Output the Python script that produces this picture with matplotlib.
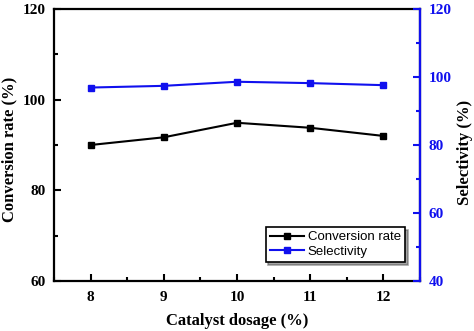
import matplotlib.pyplot as plt
from matplotlib.ticker import MultipleLocator

dosage = [8, 9, 10, 11, 12]
conversion = [90.0, 91.7, 94.9, 93.8, 92.0]
selectivity = [96.9, 97.4, 98.6, 98.2, 97.6]

plt.rcParams['font.family'] = 'Liberation Serif'
plt.rcParams['font.weight'] = 'bold'

W, H = 474, 331
fig = plt.figure(figsize=(W / 100, H / 100), dpi=100)
ax = fig.add_axes([54 / W, 50 / H, 366 / W, 272 / H])
ax2 = ax.twinx()

l1, = ax.plot(dosage, conversion, color='black', marker='s', markersize=4,
              lw=1.5, label='Conversion rate')
l2, = ax2.plot(dosage, selectivity, color='#1010ee', marker='s', markersize=4,
               lw=1.5, label='Selectivity')

ax.set_xlim(7.5, 12.5)
ax.set_ylim(60, 120)
ax2.set_ylim(40, 120)
ax.xaxis.set_major_locator(MultipleLocator(1))
ax.xaxis.set_minor_locator(MultipleLocator(0.5))
ax.yaxis.set_major_locator(MultipleLocator(20))
ax.yaxis.set_minor_locator(MultipleLocator(10))
ax2.yaxis.set_major_locator(MultipleLocator(20))
ax2.yaxis.set_minor_locator(MultipleLocator(10))

for a in (ax, ax2):
    for s in a.spines.values():
        s.set_linewidth(1.6)
ax2.spines['right'].set_color('#1010ee')
ax2.spines['left'].set_visible(False)
ax2.spines['top'].set_visible(False)
ax2.spines['bottom'].set_visible(False)

ax.tick_params(which='both', direction='in', width=1.5, labelsize=11, pad=6)
ax.tick_params(which='major', length=5)
ax.tick_params(which='minor', length=3)
ax.tick_params(axis='x', pad=7)
ax2.tick_params(which='both', direction='in', width=1.5, labelsize=11,
                colors='#1010ee', pad=6)
ax2.tick_params(which='major', length=5)
ax2.tick_params(which='minor', length=3)

# axis titles placed by hand so they stay inside the small canvas
fig.text(237 / W, 1 - 321 / H, 'Catalyst dosage (%)', fontsize=12,
         fontweight='bold', ha='center', va='center')
fig.text(9 / W, 1 - 149 / H, 'Conversion rate (%)', fontsize=12,
         fontweight='bold', ha='center', va='center', rotation=90)
fig.text(465 / W, 1 - 152 / H, 'Selectivity (%)', fontsize=12,
         fontweight='bold', ha='center', va='center', rotation=90)

leg = ax.legend(handles=[l1, l2], loc='lower right', bbox_to_anchor=(0.959, 0.07),
                borderaxespad=0, fancybox=False, shadow=True, edgecolor='black',
                framealpha=1,
                prop={'family': 'Liberation Sans', 'size': 9.5, 'weight': 'normal'},
                handlelength=2.6, handletextpad=0.3, borderpad=0.3, labelspacing=0.2)
leg.get_frame().set_linewidth(1.2)

fig.savefig('out.png', dpi=100)
